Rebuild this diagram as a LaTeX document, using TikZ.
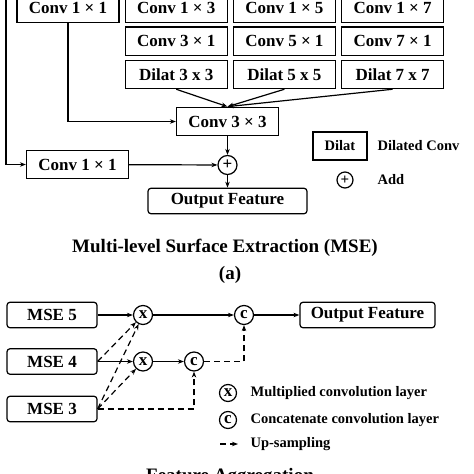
\documentclass[tikz,border=0pt]{standalone}
\usepackage{fontspec}
\setmainfont{Liberation Serif}
\usetikzlibrary{arrows.meta,positioning,calc}

\begin{document}
\begin{tikzpicture}[x=1pt, y=-1pt, line width=1.2pt, >={Stealth[length=6pt,width=4.5pt]},
  convbox/.style={draw, minimum width=102pt, minimum height=28.5pt, inner sep=0pt, font=\fontsize{17}{19}\selectfont\bfseries},
  roundbox/.style={convbox, rounded corners=3pt, minimum height=25.5pt},
  opnode/.style={draw, circle, minimum size=19pt, inner sep=0pt, font=\fontsize{17}{17}\selectfont\bfseries},
  legtext/.style={anchor=west, inner sep=0pt, font=\fontsize{14.5}{16}\selectfont\bfseries},
  titletext/.style={anchor=base, inner sep=0pt, font=\fontsize{19}{21}\selectfont\bfseries},
  upsamp/.style={->, dash pattern=on 6pt off 4pt}]
  \useasboundingbox (0,0) rectangle (474,474);
  \clip (0,0) rectangle (474,474);
  \fill[white] (0,0) rectangle (474,474);

  % (a) MSE block
  \coordinate (in) at (6,-12);
  \node[convbox] (a1) at (68,8) {Conv 1 × 1};
  \node[convbox, right=5pt of a1] (a3) {Conv 1 × 3};
  \node[convbox, right=5pt of a3] (a5) {Conv 1 × 5};
  \node[convbox, right=5pt of a5] (a7) {Conv 1 × 7};
  \node[convbox, below=3.5pt of a3] (b3) {Conv 3 × 1};
  \node[convbox, below=3.5pt of a5] (b5) {Conv 5 × 1};
  \node[convbox, below=3.5pt of a7] (b7) {Conv 7 × 1};
  \node[convbox, below=3.5pt of b3] (d3) {Dilat 3 x 3};
  \node[convbox, below=3.5pt of b5] (d5) {Dilat 5 x 5};
  \node[convbox, below=3.5pt of b7] (d7) {Dilat 7 x 7};
  \node[convbox] (c33) at (227.5,121.5) {Conv 3 × 3};
  \node[convbox] (c11) at (77.5,164.5) {Conv 1 × 1};
  \node[opnode] (add) at (227.5,165) {+};
  \node[roundbox, minimum width=159pt] (out1) at (227.5,201) {Output Feature};

  \draw[->] (in) |- (c11);
  \draw[->] (a1) |- (c33);
  \draw[->] (d3.south) -- (c33.north);
  \draw[->] (d5.south) -- (c33.north);
  \draw[->] (d7.south) -- (c33.north);
  \draw[->] (c33) -- (add);
  \draw[->] (c11) -- (add);
  \draw[->] (add) -- (out1);

  % legend (a)
  \node[convbox, minimum width=54pt, minimum height=28pt, font=\fontsize{14.5}{16}\selectfont\bfseries] (lgdil) at (340,146) {Dilat};
  \node[legtext] (lgdiltx) at (377,146) {Dilated Conv};
  \node[opnode, minimum size=16pt, font=\fontsize{15}{15}\selectfont\bfseries] (lgadd) at (345,180) {+};
  \node[legtext] (lgaddtx) at (377,180) {Add};

  \node[titletext] (title1) at (225,252) {Multi-level Surface Extraction (MSE)};
  \node[titletext] (title2) at (230,279) {(a)};

  % (b) feature aggregation
  \node[roundbox, minimum width=90pt] (m5) at (52,315) {MSE 5};
  \node[roundbox, minimum width=90pt] (m4) at (52,361.5) {MSE 4};
  \node[roundbox, minimum width=90pt] (m3) at (52,409) {MSE 3};
  \node[opnode] (x1) at (143,315) {x};
  \node[opnode] (x2) at (143,361.5) {x};
  \node[opnode] (c2) at (194,361.5) {c};
  \node[opnode] (c1) at (244,315) {c};
  \node[roundbox, minimum width=135pt] (out2) at (367.5,315) {Output Feature};

  \draw[->] (m5) -- (x1);
  \draw[->] (x1) -- (c1);
  \draw[->] (c1) -- (out2);
  \draw[->] (m4) -- (x2);
  \draw[->] (x2) -- (c2);
  \draw[upsamp] (c2) -| (c1);
  \draw[upsamp] (m3) -| (c2);
  \draw[upsamp] (m4.east) -- (x1);
  \draw[upsamp] (m3.east) -- (x1);
  \draw[upsamp] (m3.east) -- (x2);

  % legend (b)
  \node[opnode, minimum size=17pt] (lgx) at (228,393) {x};
  \node[legtext] (lgxtx) at (250,393) {Multiplied convolution layer};
  \node[opnode, minimum size=17pt] (lgc) at (228,420) {c};
  \node[legtext] (lgctx) at (250,420) {Concatenate convolution layer};
  \coordinate (lgup1) at (220,444);
  \coordinate (lgup2) at (238,444);
  \draw[upsamp] (lgup1) -- (lgup2);
  \node[legtext] (lguptx) at (250,444) {Up-sampling};

  \node[titletext] (title3) at (230,481) {Feature Aggregation};
\end{tikzpicture}
\end{document}
